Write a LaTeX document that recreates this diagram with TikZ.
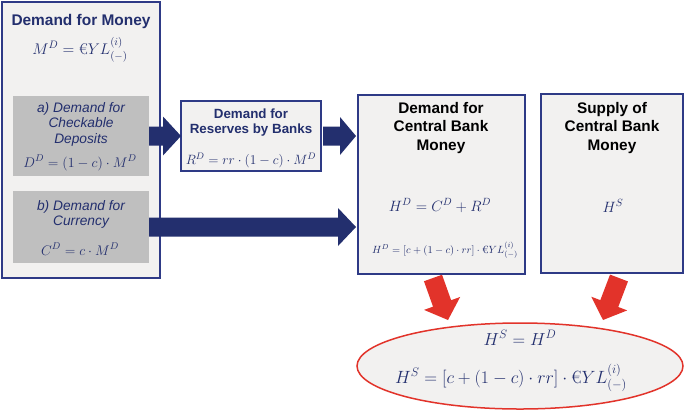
\RequirePackage{fix-cm}
\documentclass[tikz,border=0pt]{standalone}
\usepackage{amsmath}
\usepackage{fontspec}
\usetikzlibrary{calc,fit,shapes.geometric}
\newfontfamily\arial{Liberation Sans}
\definecolor{navy}{HTML}{232F6E}
\definecolor{bordernavy}{HTML}{2E3A86}
\definecolor{boxfill}{HTML}{F2F1F0}
\definecolor{innergray}{HTML}{BFBFBF}
\definecolor{redarr}{HTML}{E2332A}
\newcommand\setfs[2]{\fontsize{#1}{#2}\selectfont}
\newcommand\blockarrow[6]{%
  \coordinate (ba-h) at ($(#3)!#6!(#2)$);
  \fill[#1] ($(#2)!#4!90:(#3)$) -- ($(ba-h)!#4!90:(#3)$) -- ($(ba-h)!#5!90:(#3)$) -- (#3)
    -- ($(ba-h)!#5!-90:(#3)$) -- ($(ba-h)!#4!-90:(#3)$) -- ($(#2)!#4!-90:(#3)$) -- cycle;}
\begin{document}
\begin{tikzpicture}[x=1bp,y=-1bp,
  box/.style={draw=bordernavy, line width=2bp, fill=boxfill, inner sep=0pt, outer sep=0pt},
  graybox/.style={fill=innergray, inner sep=0pt, outer sep=0pt},
  navytitle/.style={anchor=base, inner sep=0pt, text=navy, font=\arial\bfseries\setfs{15.5}{18}},
  ital/.style={anchor=base, inner sep=0pt, text=navy, font=\arial\itshape\setfs{13.8}{16}},
  restitle/.style={anchor=base, inner sep=0pt, text=navy, font=\arial\bfseries\setfs{13.4}{16}},
  blktitle/.style={anchor=base, inner sep=0pt, text=black, font=\arial\bfseries\setfs{15.4}{18}},
  eqn/.style={anchor=base, inner sep=0pt, text=navy},
]
\useasboundingbox (0,0) rectangle (685,414);
\fill[white] (0,0) rectangle (685,414);

% boxes
\node[box, fit={(2,2)(160,278)}] (dm) {};
\node[graybox, fit={(13,96)(149,176)}] (a) {};
\node[graybox, fit={(13,191)(149,263)}] (b) {};
\node[box, fit={(181,101)(321,171)}] (res) {};
\node[box, fit={(358,95)(525,274)}] (cb) {};
\node[box, fit={(541,94)(683,273)}] (hs) {};
\node[ellipse, draw=redarr, line width=1.5bp, fill=boxfill, minimum width=326bp, minimum height=86bp, inner sep=0pt] (eq) at (520,366) {};

% texts: demand for money
\node[navytitle] (t1) at (81,25) {Demand for Money};
\node[eqn, font=\setfs{15.5}{18}] (m1) at (80,54) {$M^D = \text{€}YL^{(i)}_{(-)}$};
\node[ital] (a1) at (81,112) {a) Demand for};
\node[ital] (a2) at (81,127.5) {Checkable};
\node[ital] (a3) at (81,143) {Deposits};
\node[eqn, font=\setfs{14}{16}] (ma) at (80,167) {$D^D = (1-c)\cdot M^D$};
\node[ital] (b1) at (81,210) {b) Demand for};
\node[ital] (b2) at (81,225.5) {Currency};
\node[eqn, font=\setfs{14}{16}] (mb) at (80,255) {$C^D = c\cdot M^D$};

% reserves
\node[restitle] (r1) at (251,118) {Demand for};
\node[restitle] (r2) at (251,133) {Reserves by Banks};
\node[eqn, font=\setfs{13.5}{16}] (mr) at (251,164) {$R^D = rr\cdot(1-c)\cdot M^D$};

% central bank demand
\node[blktitle] (c1) at (441,113) {Demand for};
\node[blktitle] (c2) at (441,131.5) {Central Bank};
\node[blktitle] (c3) at (441,150) {Money};
\node[eqn, font=\setfs{15}{18}] (mc1) at (440,211) {$H^D = C^D + R^D$};
\node[eqn, font=\setfs{10.5}{12}] (mc2) at (445,253) {$H^D = [c+(1-c)\cdot rr]\cdot\text{€}YL^{(i)}_{(-)}$};

% supply
\node[blktitle] (s1) at (612,113) {Supply of};
\node[blktitle] (s2) at (612,131.5) {Central Bank};
\node[blktitle] (s3) at (612,150) {Money};
\node[eqn, font=\setfs{15}{18}] (ms) at (613,212) {$H^S$};

% equilibrium
\node[eqn, font=\setfs{17.5}{20}] (e1) at (520,345) {$H^S = H^D$};
\node[eqn, font=\setfs{17.8}{20}] (e2) at (511,383) {$H^S = [c+(1-c)\cdot rr]\cdot\text{€}YL^{(i)}_{(-)}$};

% navy block arrows
\blockarrow{navy}{a.east}{res.west}{9.5bp}{19.5bp}{18bp}
\coordinate (s2a) at ($(res.east)+(2,0)$);
\coordinate (t2a) at ($(cb.west |- res.east)+(-2,0)$);
\blockarrow{navy}{s2a}{t2a}{9.5bp}{19bp}{16bp}
\coordinate (t3a) at ($(cb.west |- b.east)+(-2,0)$);
\blockarrow{navy}{b.east}{t3a}{9.5bp}{19bp}{18bp}

% red block arrows
\coordinate (ra1s) at (433,278);
\coordinate (ra1t) at (448,320);
\blockarrow{redarr}{ra1s}{ra1t}{9.6bp}{19.2bp}{17.6bp}
\coordinate (ra2s) at (619,278);
\coordinate (ra2t) at (603,320);
\blockarrow{redarr}{ra2s}{ra2t}{9.6bp}{19.2bp}{17.6bp}
\end{tikzpicture}
\end{document}
